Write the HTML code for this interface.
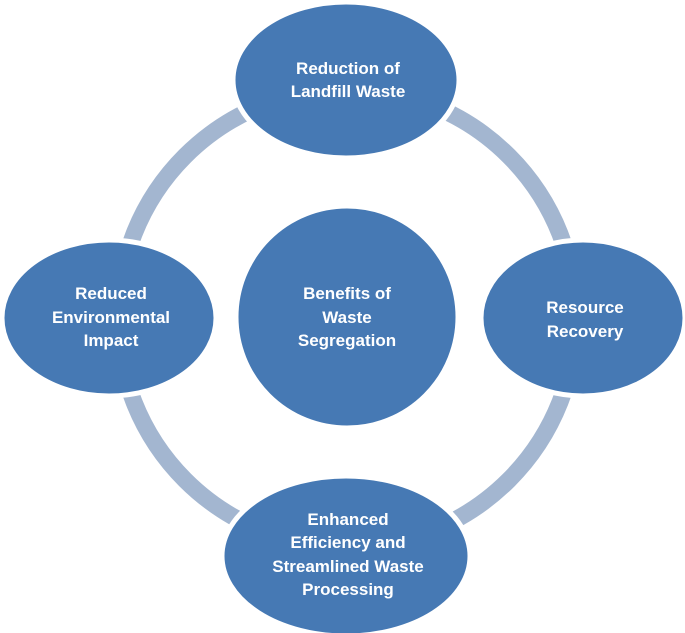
<!DOCTYPE html>
<html><head><meta charset="utf-8"><style>
html,body{margin:0;padding:0;background:#fff;}
svg{display:block;}
text{font-family:"Liberation Sans",Arial,sans-serif;font-weight:bold;font-size:17px;fill:#fff;text-anchor:middle;}
</style></head><body>
<svg width="685" height="633" viewBox="0 0 685 633" xmlns="http://www.w3.org/2000/svg">
<circle cx="347" cy="318" r="229" fill="none" stroke="#a3b6d0" stroke-width="17"/>
<g fill="#4679b4" stroke="#fff" stroke-width="5">
<ellipse cx="346" cy="80" rx="113" ry="78"/>
<ellipse cx="109" cy="318" rx="107" ry="78"/>
<ellipse cx="583" cy="318" rx="102" ry="78"/>
<ellipse cx="346" cy="556" rx="124" ry="80"/>
<circle cx="347" cy="317" r="111"/>
</g>
<text x="348" y="74">Reduction of</text>
<text x="348" y="97">Landfill Waste</text>
<text x="111" y="299">Reduced</text>
<text x="111" y="323">Environmental</text>
<text x="111" y="346">Impact</text>
<text x="585" y="313">Resource</text>
<text x="585" y="337">Recovery</text>
<text x="347" y="299">Benefits of</text>
<text x="347" y="323">Waste</text>
<text x="347" y="346">Segregation</text>
<text x="348" y="525">Enhanced</text>
<text x="348" y="548">Efficiency and</text>
<text x="348" y="572">Streamlined Waste</text>
<text x="348" y="595">Processing</text>
</svg>
</body></html>
